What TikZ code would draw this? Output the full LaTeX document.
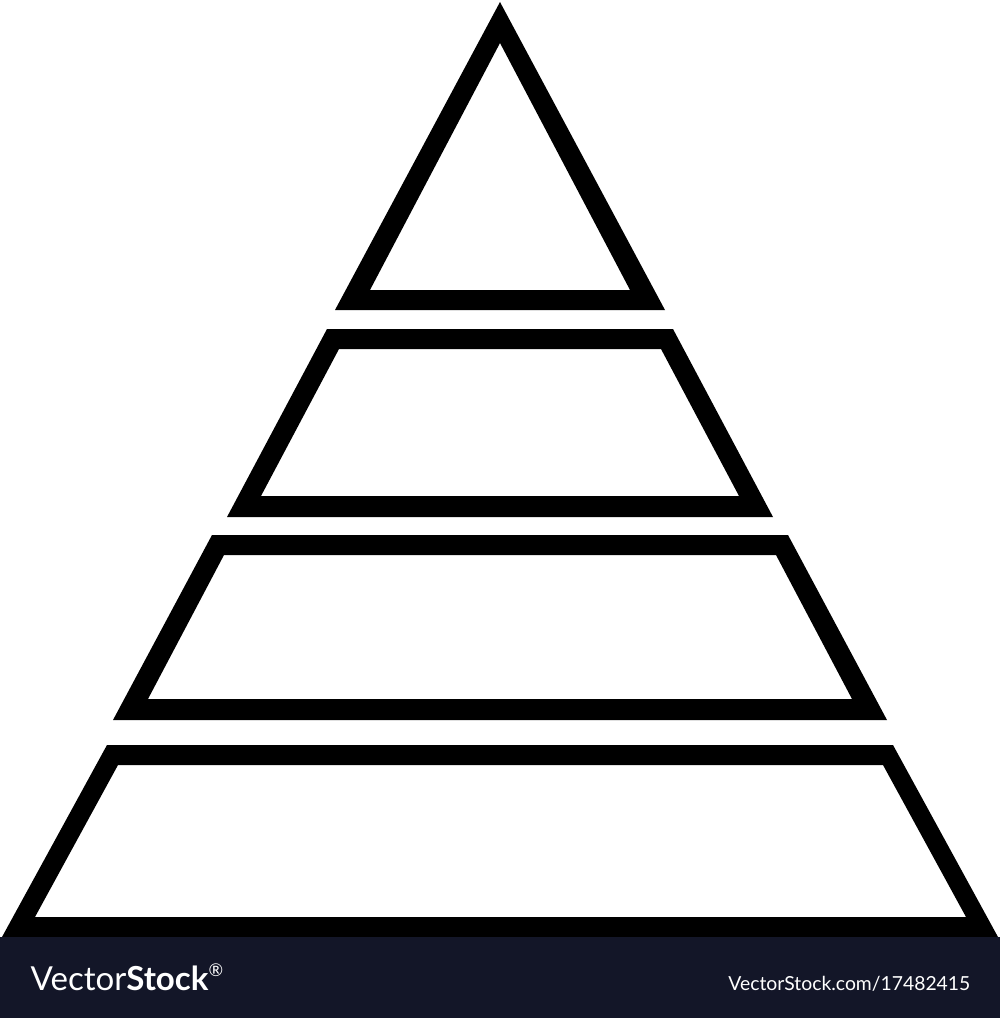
\documentclass[tikz,border=0pt]{standalone}
\usepackage{fontspec}
\setmainfont{Lato}
\usepackage{tikz}
\definecolor{barblue}{HTML}{131628}

\begin{document}
\begin{tikzpicture}[x=0.01cm,y=-0.01cm,
        level/.style={fill=black,even odd rule},
        mark text/.style={text=white,inner sep=0pt,anchor=base west}]
            \useasboundingbox (0,0) rectangle (1000,1018);

            % top triangle
            \path [level] (500,2) -- (335,310) -- (665,310) -- cycle
                          (500,43) -- (370,290) -- (630,290) -- cycle;
            % second band
            \path [level] (327,329) -- (673,329) -- (773,517) -- (227,517) -- cycle
                          (339,349) -- (661,349) -- (739,496) -- (261,496) -- cycle;
            % third band
            \path [level] (212,535) -- (788,535) -- (887,720) -- (113,720) -- cycle
                          (224,555) -- (776,555) -- (852,699) -- (148,699) -- cycle;
            % bottom band
            \path [level] (107,745) -- (893,745) -- (998,937) -- (2,937) -- cycle
                          (118,765) -- (883,765) -- (966,917) -- (35,917) -- cycle;

            \fill [barblue] (0,937) rectangle (1000,1018);
            \node [mark text,font=\fontsize{9.4}{11}\selectfont] (brand) at (30,990)
                {Vector\textbf{Stock}\textsuperscript{\tiny\textregistered}};
            \node [mark text,font=\fontsize{5.5}{6}\selectfont,anchor=base east] (url) at (971,990)
                {VectorStock.com/17482415};
        \end{tikzpicture}
\end{document}
